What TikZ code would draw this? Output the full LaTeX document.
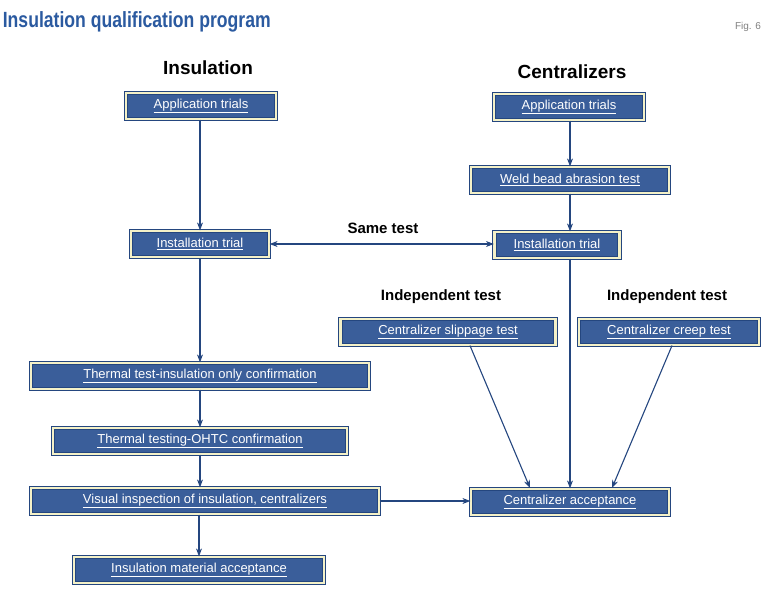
\documentclass[tikz,border=0pt]{standalone}
\usepackage{fontspec}
\setmainfont{Liberation Sans}
\usetikzlibrary{arrows.meta}
\definecolor{navy}{HTML}{24467F}
\definecolor{band}{HTML}{3A5E9A}
\definecolor{cream}{HTML}{F4F1C8}
\definecolor{titleblue}{HTML}{2B5AA0}
\begin{document}
\begin{tikzpicture}[x=1pt,y=-1pt,
  box/.style={draw=navy, line width=1.2pt, fill=band, double=cream, double distance=2.5pt,
    minimum height=26pt, text=white, font=\fontsize{13}{14}\selectfont, inner xsep=3pt},
  head/.style={font=\fontsize{19}{21}\selectfont\bfseries},
  sub/.style={font=\fontsize{15}{17}\selectfont\bfseries},
  arr/.style={draw=navy, line width=1.1pt, -{Stealth[length=8pt,width=6pt]}}]
\useasboundingbox (0,0) rectangle (764,590);
\node[anchor=west, text=titleblue, font=\fontsize{22}{24}\selectfont\bfseries\scshape, xscale=0.8] (title) at (0,22) {Insulation qualification program};
\node[text=gray, font=\fontsize{10}{11}\selectfont] (fig) at (748,27) {Fig. 6};
\node[head] (h1) at (208,68) {Insulation};
\node[head] (h2) at (572,72) {Centralizers};
\node[sub] (same) at (383,228) {Same test};
\node[sub] (ind1) at (441,297) {Independent test};
\node[sub] (ind2) at (667,297) {Independent test};

\node[box, minimum width=150pt] (a1) at (201,106) {\underline{Application trials}};
\node[box, minimum width=150pt] (a2) at (569,107) {\underline{Application trials}};
\node[box, minimum width=198pt] (w) at (570,180) {\underline{Weld bead abrasion test}};
\node[box, minimum width=138pt] (i1) at (200,244) {\underline{Installation trial}};
\node[box, minimum width=125pt] (i2) at (557,245) {\underline{Installation trial}};
\node[box, minimum width=215pt] (s) at (448,332) {\underline{Centralizer slippage test}};
\node[box, minimum width=180pt] (c) at (669,332) {\underline{Centralizer creep  test}};
\node[box, minimum width=338pt] (t1) at (200,376) {\underline{Thermal test-insulation only confirmation}};
\node[box, minimum width=294pt] (t2) at (200,441) {\underline{Thermal testing-OHTC confirmation}};
\node[box, minimum width=348pt] (v) at (205,501) {\underline{Visual inspection of insulation, centralizers}};
\node[box, minimum width=198pt] (ca) at (570,502) {\underline{Centralizer acceptance}};
\node[box, minimum width=250pt] (ima) at (199,570) {\underline{Insulation material acceptance}};

\draw[arr] (a1.south -| i1) -- (i1);
\draw[arr] (i1) -- (t1);
\draw[arr] (t1) -- (t2);
\draw[arr] (t2.south) -- (t2.south |- v.north);
\draw[arr] (v.south -| ima) -- (ima);
\draw[arr] (a2.south -| w) -- (w);
\draw[arr] (w) -- (w |- i2.north);
\draw[arr, {Stealth[length=8pt,width=6pt]}-{Stealth[length=8pt,width=6pt]}] (i1) -- (i1 -| i2.west);
\draw[arr] (i2.south -| ca) -- (ca.north);
\draw[arr] (s.south) ++(22,0) -- (530,488);
\draw[arr] (c.south) ++(3,0) -- (612,488);
\draw[arr] (v) -- (v -| ca.west);
\end{tikzpicture}
\end{document}
